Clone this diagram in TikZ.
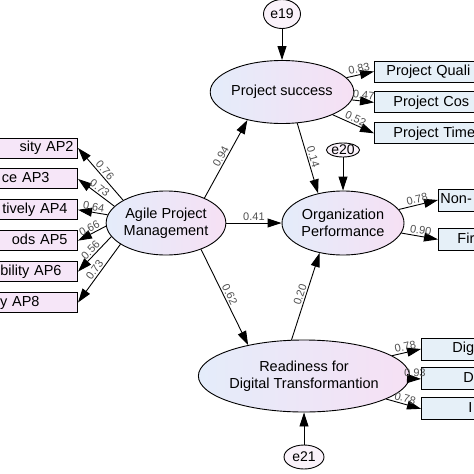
\documentclass[tikz,border=0pt]{standalone}
\usepackage{fontspec}
\setmainfont{Liberation Sans}
\usetikzlibrary{arrows.meta,positioning,shapes.geometric}

\definecolor{latl}{RGB}{228,236,250}
\definecolor{latr}{RGB}{246,224,244}
\definecolor{errfill}{RGB}{250,242,250}
\definecolor{apfill}{RGB}{246,230,248}
\definecolor{outfill}{RGB}{230,240,248}
\definecolor{coefgray}{RGB}{80,80,80}

\begin{document}
\begin{tikzpicture}[x=1pt,y=-1pt,line width=0.9pt,
                    >={Triangle[length=14pt,width=9pt]},
                    latent/.style={ellipse,draw,left color=latl,right color=latr,inner sep=0pt,
                                   align=center,font=\fontsize{14.5}{17}\selectfont},
                    err/.style={ellipse,draw,fill=errfill,inner sep=0pt,font=\fontsize{14}{16}\selectfont},
                    apbox/.style={draw,fill=apfill,anchor=east,text width=100pt,align=right,
                                  minimum height=20pt,inner ysep=0pt,inner xsep=#1,
                                  text height=10.5pt,text depth=3pt,font=\fontsize{14.5}{17}\selectfont},
                    outbox/.style={draw,fill=outfill,anchor=west,text width=100pt,align=left,
                                   minimum height=21pt,inner ysep=0pt,inner xsep=#1,
                                   text height=10.5pt,text depth=3pt,font=\fontsize{14.5}{17}\selectfont},
                    coef/.style={sloped,above,inner sep=1.5pt,text=coefgray,font=\fontsize{11}{12}\selectfont}]

\useasboundingbox (0,0) rectangle (474,474);
\clip (0,0) rectangle (474,474);

% latent variables
\node[latent,minimum width=118pt,minimum height=64pt] (apm) at (166,223) {Agile Project\\Management};
\node[latent,minimum width=120pt,minimum height=63pt] (ps) at (282,92) {Project success};
\node[latent,minimum width=122pt,minimum height=64pt] (op) at (343,223) {Organization\\Performance};
\node[latent,minimum width=174pt,minimum height=72pt] (rdt) at (304,376) {Readiness for\\Digital Transformantion};

% error terms
\node[err,minimum width=37pt,minimum height=29pt] (e19) at (282,14) {e19};
\node[err,minimum width=32pt,minimum height=14pt] (e20) at (343,150) {e20};
\node[err,minimum width=40pt,minimum height=24pt] (e21) at (304,457) {e21};

% indicators of agile project management
\node[apbox=4pt] (ap2) at (78,148) {sity AP2};
\node[apbox=28pt,below=10pt of ap2.south east,anchor=north east] (ap3) {ce AP3};
\node[apbox=10pt,below=10pt of ap3.south east,anchor=north east] (ap4) {tively AP4};
\node[apbox=10pt,below=10pt of ap4.south east,anchor=north east] (ap5) {ods AP5};
\node[apbox=16pt,below=10pt of ap5.south east,anchor=north east] (ap6) {bility AP6};
\node[apbox=38pt,below=10pt of ap6.south east,anchor=north east] (ap8) {y AP8};

% indicators of project success
\node[outbox=12pt] (pq) at (374,71.5) {Project Quali};
\node[outbox=19pt,below=9pt of pq.south west,anchor=north west] (pc) {Project Cos};
\node[outbox=19pt,below=9pt of pc.south west,anchor=north west] (pt) {Project Time};

% indicators of organization performance
\node[outbox=2pt,minimum height=22pt] (nfp) at (438,200) {Non-};
\node[outbox=19pt,minimum height=22pt,below=16.5pt of nfp.south west,anchor=north west] (fp) {Fir};

% indicators of digital readiness
\node[outbox=31pt,minimum height=22pt] (dg1) at (421,349) {Dig};
\node[outbox=42pt,minimum height=22pt,below=7pt of dg1.south west,anchor=north west] (dg2) {D};
\node[outbox=47pt,minimum height=22pt,below=7pt of dg2.south west,anchor=north west] (dg3) {I};

% loadings
\draw[->] (apm.152) -- node[coef] {0.76} (ap2.east);
\draw[->] (apm.162) -- node[coef] {0.73} (ap3.east);
\draw[->] (apm.172) -- node[coef] {0.64} (ap4.east);
\draw[->] (apm.183) -- node[coef] {0.66} (ap5.east);
\draw[->] (apm.194) -- node[coef] {0.56} (ap6.east);
\draw[->] (apm.205) -- node[coef] {0.73} (ap8.east);

\draw[->] (ps) -- node[coef] {0.83} (pq.west);
\draw[->] (ps) -- node[coef] {0.47} (pc.west);
\draw[->] (ps) -- node[coef] {0.52} (pt.west);

\draw[->] (op) -- node[coef] {0.78} (nfp.west);
\draw[->] (op) -- node[coef] {0.90} (fp.west);

\draw[->] (rdt) -- node[coef] {0.78} (dg1.west);
\draw[->] (rdt) -- node[coef,pos=0.45] {0.93} (dg2.west);
\draw[->] (rdt) -- node[coef] {0.78} (dg3.west);

% structural paths
\draw[->] (apm.33) -- node[coef] {0.94} (ps.219);
\draw[->] (apm) -- node[coef] {0.41} (op);
\draw[->] (apm.-37) -- node[coef] {0.62} (rdt.151);
\draw[->] (ps.-64) -- node[coef] {0.14} (op.130);
\draw[->] (rdt.109) -- node[coef] {0.20} (op.-128);

% residuals
\draw[->] (e19) -- (ps);
\draw[->] (e20) -- (op);
\draw[->] (e21) -- (rdt);

\end{tikzpicture}
\end{document}
